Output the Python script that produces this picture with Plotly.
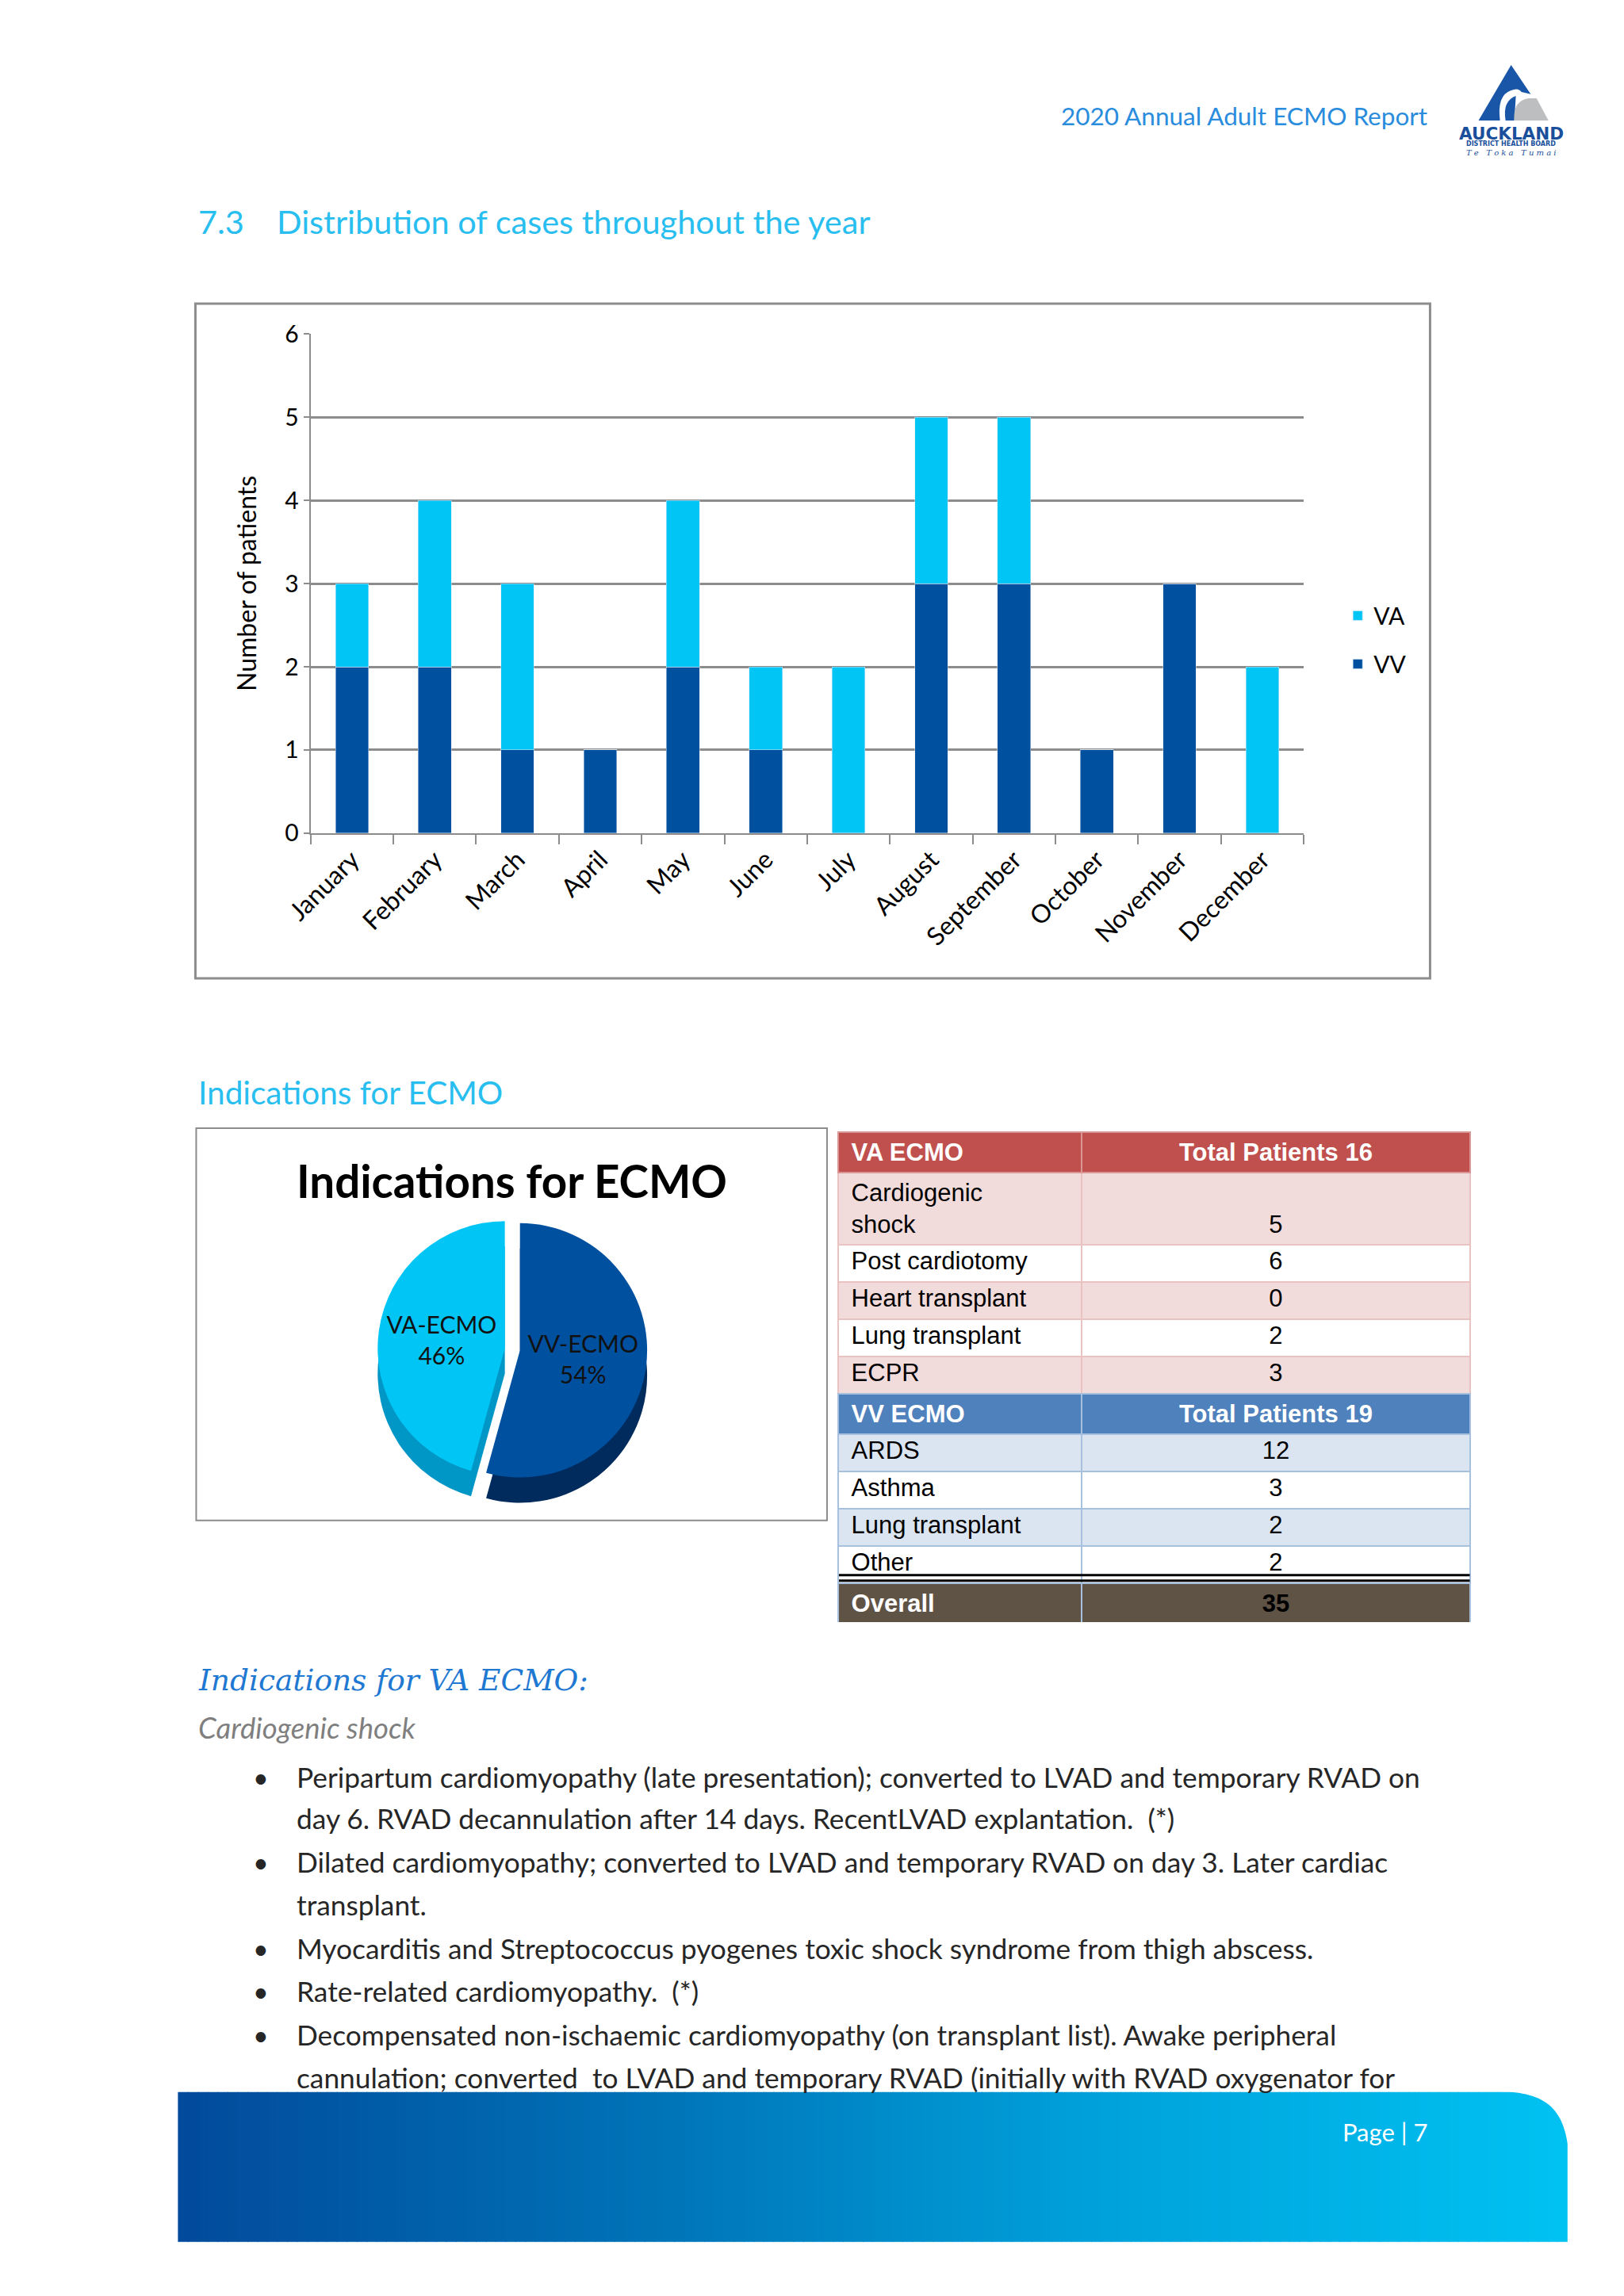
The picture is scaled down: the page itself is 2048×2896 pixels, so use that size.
import plotly.graph_objects as go

W, H = 2048, 2896
# the photographed page is slightly scaled/offset; positions below are given in
# reference-image pixels and mapped into figure pixels here
SX, OX = 0.981, 36.0
SY, OY = 0.988, 17.0
def fx(X): return (X - OX) / SX
def fy(Y): return (Y - OY) / SY
def px(X): return fx(X) / W
def py(Y): return 1 - fy(Y) / H

# ---------------- data ----------------
months = ["January", "February", "March", "April", "May", "June", "July",
          "August", "September", "October", "November", "December"]
vv_counts = [2, 2, 1, 1, 2, 1, 0, 3, 3, 1, 3, 0]
va_counts = [1, 2, 2, 0, 2, 1, 2, 2, 2, 0, 0, 2]
y_ticks = [0, 1, 2, 3, 4, 5, 6]

pie_labels = ["VV-ECMO", "VA-ECMO"]
pie_values = [sum(vv_counts), sum(va_counts)]

va_ind = ["Cardiogenic<br>\u00a0shock", "Post cardiotomy", "Heart transplant", "Lung transplant", "ECPR"]
va_n = ["\u00a0<br>5", "6", "0", "2", "3"]
va_total = 16
vv_ind = ["ARDS", "Asthma", "Lung transplant", "Other"]
vv_n = ["12", "3", "2", "2"]
vv_total = 19
overall_total = 35

bullet_lines = [
    (True, "Peripartum cardiomyopathy (late presentation); converted to LVAD and temporary RVAD on"),
    (False, "day 6. RVAD decannulation after 14 days. RecentLVAD explantation.  (*)"),
    (True, "Dilated cardiomyopathy; converted to LVAD and temporary RVAD on day 3. Later cardiac"),
    (False, "transplant."),
    (True, "Myocarditis and Streptococcus pyogenes toxic shock syndrome from thigh abscess."),
    (True, "Rate-related cardiomyopathy.  (*)"),
    (True, "Decompensated non-ischaemic cardiomyopathy (on transplant list). Awake peripheral"),
    (False, "cannulation; converted  to LVAD and temporary RVAD (initially with RVAD oxygenator for"),
]

# ---------------- colours ----------------
C_VV = "#0050A0"
C_VA = "#00C5F5"
GRID = "#8C8C8C"
BODY = "#262626"

fig = go.Figure()

# ---------------- stacked bar chart ----------------
fig.add_trace(go.Bar(x=months, y=vv_counts, name="VV", marker_color=C_VV,
                     legendgroup="vv", legendrank=2, xaxis="x", yaxis="y"))
fig.add_trace(go.Bar(x=months, y=va_counts, name="VA", marker_color=C_VA,
                     legendgroup="va", legendrank=1, xaxis="x", yaxis="y"))

# ---------------- pie (shadow + top) ----------------
r_dom = 340
cx, cy = 646, 1700
depth = 32
fig.add_trace(go.Pie(labels=pie_labels, values=pie_values, sort=False, direction="clockwise",
                     rotation=0, pull=[0.06, 0.06], textinfo="none", hoverinfo="skip",
                     marker=dict(colors=["#002B5C", "#0097C6"], line=dict(width=0)),
                     showlegend=False,
                     domain=dict(x=[px(cx - r_dom / 2), px(cx + r_dom / 2)],
                                 y=[py(cy + depth + r_dom / 2), py(cy + depth - r_dom / 2)])))
fig.add_trace(go.Pie(labels=pie_labels, values=pie_values, sort=False, direction="clockwise",
                     rotation=0, pull=[0.06, 0.06],
                     texttemplate="%{label}<br>%{percent:.0%}", textposition="inside",
                     insidetextorientation="horizontal",
                     textfont=dict(family="Lato", size=30, color="#111111"),
                     marker=dict(colors=[C_VV, C_VA], line=dict(width=0)),
                     showlegend=False,
                     domain=dict(x=[px(cx - r_dom / 2), px(cx + r_dom / 2)],
                                 y=[py(cy + r_dom / 2), py(cy - r_dom / 2)])))

# ---------------- table ----------------
NB = "\u00a0"
col1 = [NB + s for s in va_ind] + [NB + "<b>VV ECMO</b>"] + [NB + s for s in vv_ind] + [NB + "<b>Overall</b>"]
col2 = va_n + [f"<b>Total Patients {vv_total}</b>"] + vv_n + [f"<b>{overall_total}</b>"]
PINK, BLUE_L, WHITE = "#F2DCDB", "#DBE5F1", "#FFFFFF"
fills = [PINK, WHITE, PINK, WHITE, PINK, "#4F81BD", BLUE_L, WHITE, BLUE_L, WHITE, "#5F5346"]
f1 = ["black"] * 5 + ["white"] + ["black"] * 4 + ["white"]
f2 = ["black"] * 5 + ["white"] + ["black"] * 4 + ["black"]
lines = ["#E8C3C2"] * 5 + ["#A7C0DE"] * 6
fig.add_trace(go.Table(
    domain=dict(x=[px(1056), px(1852)], y=[py(2045), py(1426)]),
    columnwidth=[0.385, 0.615],
    header=dict(values=[NB + "<b>VA ECMO</b>", f"<b>Total Patients {va_total}</b>"],
                fill_color="#C0504D", line=dict(color="#D99694", width=1.5),
                font=dict(family="Liberation Sans", size=31, color="white"),
                align=["left", "center"], height=47),
    cells=dict(values=[col1, col2], fill_color=[fills, fills],
               line=dict(color=[lines, lines], width=1.5),
               font=dict(family="Liberation Sans", size=31, color=[f1, f2]),
               align=["left", "center"], height=47),
))

# ---------------- layout ----------------
annotations = []
def txt(x, y, s, size, color, family="Lato", xanchor="left", yanchor="middle"):
    annotations.append(dict(x=px(x), y=py(y), xref="paper", yref="paper", text=s,
                            showarrow=False, xanchor=xanchor, yanchor=yanchor,
                            font=dict(family=family, size=size, color=color)))

txt(1800, 144, "2020 Annual Adult ECMO Report", 31.5, "#2A8CDD", xanchor="right")
txt(249, 277, "7.3", 41.5, "#29BEF0")
txt(347, 277, "Distribution of cases throughout the year", 41.5, "#29BEF0")
txt(249, 1376, "Indications for ECMO", 40.5, "#29BEF0")
txt(645, 1487, "<b>Indications for ECMO</b>", 56.5, "#000000", xanchor="center")
txt(249, 2117, "<i>Indications for VA ECMO:</i>", 37.5, "#1F78D1", family="DejaVu Serif")
txt(249, 2177, "<i>Cardiogenic shock</i>", 36.5, "#7F7F7F")
line_y = [2240, 2292, 2347, 2401, 2456, 2510, 2565, 2619]
for (bul, s), yy in zip(bullet_lines, line_y):
    if bul:
        txt(317, yy, "•", 34, BODY)
    txt(372, yy, s, 35.3, BODY)
txt(1800, 2687, "Page | 7", 31, "white", xanchor="right")

# logo text
txt(1903, 167, "<b>AUCKLAND</b>", 21.5, "#1A4F9C", family="DejaVu Sans", xanchor="center")
txt(1903, 180, "<b>DISTRICT HEALTH BOARD</b>", 8, "#1A4F9C", family="DejaVu Sans", xanchor="center")
txt(1903, 191, "<i>T e   T o k a   T u m a i</i>", 10, "#1A4F9C", family="DejaVu Serif", xanchor="center")

shapes = []
def pathstr(cmds):
    out = []
    for c in cmds:
        if isinstance(c, str):
            out.append(c)
        else:
            out.append(f"{px(c[0])},{py(c[1])}")
    return " ".join(out)
def path(cmds, fill):
    shapes.append(dict(type="path", path=pathstr(cmds), xref="paper", yref="paper",
                       fillcolor=fill, line=dict(width=0)))

# logo shapes
path(["M", (1862, 150), "L", (1903, 80), "L", (1950, 150), "Z"], "#1A56A8")
path(["M", (1889, 150), "Q", (1885, 118), (1903, 112), "Q", (1912, 108), (1916, 114),
      "L", (1933, 118), "L", (1955, 150), "Z"], "white")
path(["M", (1896, 150), "Q", (1892, 125), (1909, 119), "L", (1907, 150), "Z"], "#1A56A8")
path(["M", (1907, 150), "Q", (1905, 125), (1925, 122), "L", (1935, 122), "L", (1950, 150), "Z"], "#BDBEC0")

# frames
shapes.append(dict(type="rect", xref="paper", yref="paper", x0=px(247), x1=px(1801),
                   y0=py(1232), y1=py(381), line=dict(color="#8C8C8C", width=3)))
shapes.append(dict(type="rect", xref="paper", yref="paper", x0=px(248), x1=px(1042),
                   y0=py(1916), y1=py(1421), line=dict(color="#8C8C8C", width=2)))

# double line above Overall row
for yy in (1985, 1992):
    shapes.append(dict(type="line", xref="paper", yref="paper", x0=px(1057), x1=px(1851),
                       y0=py(yy), y1=py(yy), line=dict(color="black", width=3)))

# footer gradient band
stops = [(0.0, (2, 74, 155)), (0.35, (0, 116, 184)), (0.65, (0, 160, 218)), (1.0, (0, 194, 242))]
def grad(t):
    for (t0, c0), (t1, c1) in zip(stops[:-1], stops[1:]):
        if t <= t1:
            f = (t - t0) / (t1 - t0)
            return "rgb(%d,%d,%d)" % tuple(round(a + (b - a) * f) for a, b in zip(c0, c1))
    return "rgb(%d,%d,%d)" % stops[-1][1]
fx0, fx1, fy0, fy1 = 225, 1974, 2637, 2826
n = 140
for i in range(n):
    a = fx0 + (fx1 - fx0) * i / n
    b = fx0 + (fx1 - fx0) * (i + 1) / n + 1
    shapes.append(dict(type="rect", xref="paper", yref="paper", x0=px(a), x1=px(min(b, fx1)),
                       y0=py(fy1), y1=py(fy0), fillcolor=grad((i + 0.5) / n), line=dict(width=0),
                       layer="below"))
path(["M", (1886, fy0 - 1), "L", (fx1 + 1, fy0 - 1), "L", (fx1 + 1, 2706),
      "C", (1968, 2660), (1950, fy0), (1886, fy0 - 1), "Z"], "white")

fig.update_layout(
    width=W, height=H, margin=dict(l=0, r=0, t=0, b=0),
    paper_bgcolor="white", plot_bgcolor="white",
    font=dict(family="Lato", color="#000000"),
    barmode="stack", bargap=0.6,
    xaxis=dict(domain=[px(392), px(1642)], anchor="y", type="category",
               tickson="boundaries", ticks="outside", ticklen=12, tickcolor=GRID, tickwidth=2,
               tickangle=-45, tickfont=dict(family="Lato", size=32, color="#000000"),
               showline=True, linecolor=GRID, linewidth=2, showgrid=False),
    yaxis=dict(domain=[py(1049), py(419)], anchor="x", range=[0, 6.004], tickvals=y_ticks,
               showgrid=True, gridcolor=GRID, gridwidth=2.5, zeroline=False,
               showline=True, linecolor=GRID, linewidth=2, ticks="outside", ticklen=7,
               tickcolor=GRID, tickwidth=2,
               tickfont=dict(family="Lato", size=30, color="#000000"),
               title=dict(text="Number of patients", standoff=26,
                          font=dict(family="Lato", size=32, color="#000000"))),
    legend=dict(x=px(1690), y=py(805), xanchor="left", yanchor="middle",
                traceorder="grouped", tracegroupgap=19,
                font=dict(family="Lato", size=30, color="#000000"), itemwidth=30,
                bgcolor="rgba(0,0,0,0)"),
    annotations=annotations,
    shapes=shapes,
)

fig.write_html("out.html", config={"displayModeBar": False},
               post_script="document.body.style.margin='0';document.body.style.overflow='hidden';")
